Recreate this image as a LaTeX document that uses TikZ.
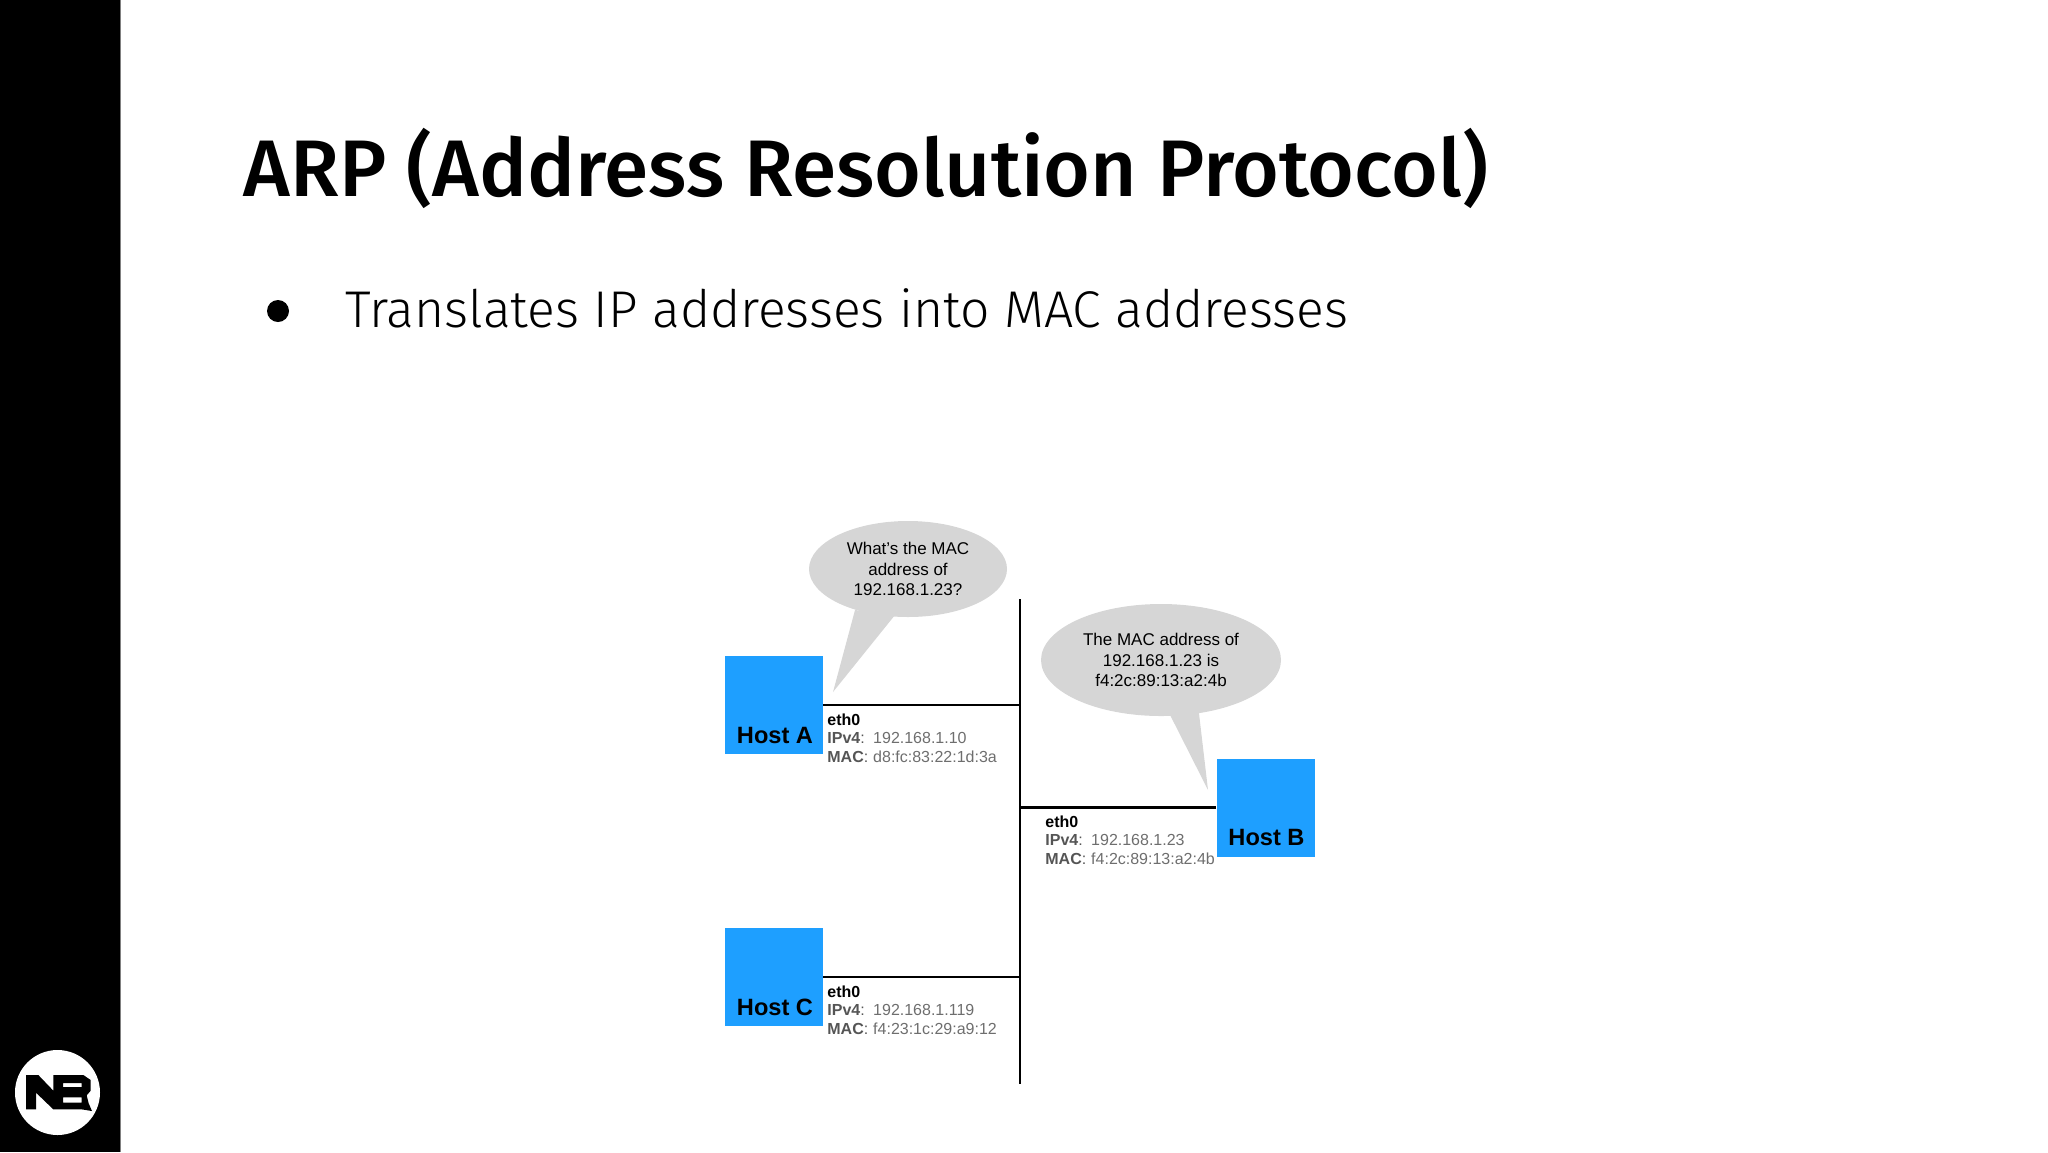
\documentclass[tikz,border=0pt]{standalone}
\usepackage{fontspec}
\usetikzlibrary{shapes.geometric}
\setmainfont{Liberation Sans}
\newfontfamily\titlefont{Fira Sans Medium}
\newfontfamily\bulletfont{Fira Sans Light}
\definecolor{hostblue}{HTML}{1E9FFF}
\definecolor{bubblegray}{HTML}{D6D6D6}
\definecolor{infolabel}{HTML}{555555}
\definecolor{infovalue}{HTML}{6E6E6E}
\newcommand{\hostinfo}[2]{\textcolor{black}{\textbf{eth0}}\\
    \makebox[22.9pt][l]{\textcolor{infolabel}{\textbf{IPv4}:}}\textcolor{infovalue}{#1}\\
    \makebox[22.9pt][l]{\textcolor{infolabel}{\textbf{MAC}:}}\textcolor{infovalue}{#2}}

\begin{document}
\begin{tikzpicture}[x=0.5pt, y=-0.5pt]
    \useasboundingbox (0,0) rectangle (2048,1152);

    % --- DEFINE STYLES ---
    % Style for the blue host squares
    \tikzstyle{host_box} = [rectangle, fill=hostblue, inner sep=0pt, minimum size=49pt]
    % Style for the name printed in a host square
    \tikzstyle{host_name} = [inner sep=0pt, anchor=base, font=\fontsize{11.8}{14}\selectfont\bfseries]
    % Style for the interface details below a link
    \tikzstyle{info_text} = [inner sep=0pt, anchor=north west, align=left, font=\fontsize{8}{9.45}\selectfont]
    % Style for the speech bubbles
    \tikzstyle{bubble} = [ellipse, fill=bubblegray, inner sep=0pt, align=center, font=\fontsize{8.5}{10.45}\selectfont]
    % Style for the network lines
    \tikzstyle{wire} = [black, line width=1.1pt]

    % Side bar and logo
    \fill[black] (0,0) rectangle (120,1152);
    \draw[gray, line width=0.5pt] (120,0) -- (120,1152);
    \node[circle, fill=white, inner sep=0pt, minimum size=42.5pt] (logo) at (57.5,1092.5) {};
    \fill[black, even odd rule, shift={(0,1020)}, x=0.1667pt, y=-0.1667pt]
        (78,165) -- (115,165) -- (160,212) -- (160,165) -- (250,165) -- (272,180) -- (272,212)
        -- (260,226) -- (266,250) -- (276,273) -- (245,268) -- (160,268) -- (108,218) -- (108,268) -- (78,268) -- cycle
        (189,189) rectangle (245,201)
        (189,232) rectangle (245,248);

    % Heading
    \node[inner sep=0pt, anchor=base west, font=\fontsize{40.1}{48}\titlefont] (title) at (243,196) {ARP (Address Resolution Protocol)};
    \node[circle, fill=black, inner sep=0pt, minimum size=11pt] (dot) at (278,311) {};
    \node[inner sep=0pt, anchor=base west, font=\fontsize{25.83}{32}\bulletfont] (bullet) at (345,327) {Translates IP addresses into MAC addresses};

    % Network bus
    \coordinate (bus_top) at (1020,599);
    \coordinate (bus_bot) at (1020,1084);
    \draw[wire] (bus_top) -- (bus_bot);

    % --- DRAW HOSTS AND THEIR LINKS ---
    \foreach \id/\x/\y/\nm in {a/774/705/A, b/1265.5/807.5/B, c/774/977/C} {
        \node[host_box] (host\id) at (\x,\y) {};
        \node[host_name] (name\id) at (\x+1,\y+38) {Host \nm};
        \draw[wire] (host\id) -- (host\id -| bus_top);
    }

    % Interface details
    \node[info_text] (infoa) at (827,713) {\hostinfo{192.168.1.10}{d8:fc:83:22:1d:3a}};
    \node[info_text] (infob) at (1045,815) {\hostinfo{192.168.1.23}{f4:2c:89:13:a2:4b}};
    \node[info_text] (infoc) at (827,985) {\hostinfo{192.168.1.119}{f4:23:1c:29:a9:12}};

    % Speech bubbles with their tails
    \coordinate (tail_a) at (833,692);
    \coordinate (tail_b) at (1208,790);
    \fill[bubblegray] (855,610) -- (895,615) -- (tail_a) -- cycle;
    \fill[bubblegray] (1165,705) -- (1198,705) -- (tail_b) -- cycle;
    \node[bubble, minimum width=99pt, minimum height=48pt] (ask) at (908,569) {What's the MAC\\address of\\192.168.1.23?};
    \node[bubble, minimum width=120pt, minimum height=56pt] (reply) at (1161,660) {The MAC address of\\192.168.1.23 is\\f4:2c:89:13:a2:4b};
\end{tikzpicture}
\end{document}
